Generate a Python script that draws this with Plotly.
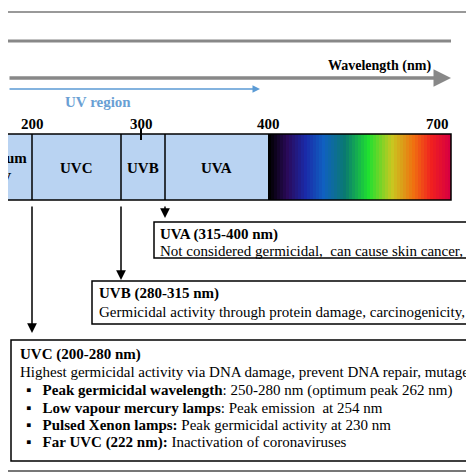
import numpy as np
import plotly.graph_objects as go

# ── data ─────────────────────────────────────────────
tick_nm = [200, 300, 400, 700]
band_names = ["UVC", "UVB", "UVA"]
band_edges_nm = [200, 280, 315, 400]
spectrum_nm = list(range(400, 701, 5))
spectrum_colors = [[0.0, "#000000"], [0.1, "#2a0a5a"], [0.2, "#1a2aa8"], [0.3, "#1060c0"],
                   [0.42, "#0a7a70"], [0.55, "#20e030"], [0.68, "#c8c820"], [0.8, "#f07010"],
                   [0.9, "#f02020"], [1.0, "#d80040"]]
uva_title = "UVA (315-400 nm)"
uva_text = "Not considered germicidal,  can cause skin cancer, cataracts"
uvb_title = "UVB (280-315 nm)"
uvb_text = "Germicidal activity through protein damage, carcinogenicity, erythema"
uvc_title = "UVC (200-280 nm)"
uvc_text = "Highest germicidal activity via DNA damage, prevent DNA repair, mutagenesis"
uvc_bullets = [("Peak germicidal wavelength", ": 250-280 nm (optimum peak 262 nm)"),
               ("Low vapour mercury lamps", ": Peak emission  at 254 nm"),
               ("Pulsed Xenon lamps:", " Peak germicidal activity at 230 nm"),
               ("Far UVC (222 nm):", " Inactivation of coronaviruses")]

# non-linear wavelength scale of the drawing (nm -> x)
scale_nm = [200, 280, 300, 315, 400, 700]
scale_x = [24, 113, 133, 157, 260, 443]
def wx(nm):
    return float(np.interp(nm, scale_nm, scale_x))

FONT = "Liberation Serif"
FS = 15
fig = go.Figure()

# spectrum heatmap (cell centres so that the edges sit on the bar)
n = len(spectrum_nm)
step = (wx(700) - wx(400)) / n
sx = [wx(400) + step * (i + 0.5) for i in range(n)]
fig.add_trace(go.Heatmap(x=sx, y=[142.5, 175.5], z=[spectrum_nm, spectrum_nm],
                         colorscale=spectrum_colors, showscale=False, hoverinfo="skip"))

shapes = []
ann = []
line = dict(color="black", width=1.5)
# grey frame lines
shapes.append(dict(type="line", x0=0, x1=474, y0=4, y1=4, line=dict(color="#777", width=1.5)))
shapes.append(dict(type="line", x0=0, x1=443, y0=33, y1=33, line=dict(color="#888", width=3)))
shapes.append(dict(type="line", x0=0, x1=474, y0=463, y1=463, line=dict(color="#777", width=2)))
# UV bar
shapes.append(dict(type="rect", x0=-5, x1=wx(400), y0=126, y1=192, line=dict(width=0),
                   fillcolor="#b9d3f2", layer="below"))
shapes.append(dict(type="rect", x0=-5, x1=wx(700), y0=126, y1=192, line=line))
for nm in band_edges_nm[:-1]:
    shapes.append(dict(type="line", x0=wx(nm), x1=wx(nm), y0=126, y1=192, line=line))
shapes.append(dict(type="line", x0=wx(300), x1=wx(300), y0=121, y1=132, line=dict(color="black", width=2)))
for nm in tick_nm:
    ann.append(dict(x=wx(nm), y=116, text=f"<b>{nm}</b>", showarrow=False,
                    xanchor="right" if nm == 700 else "center", font=dict(size=15)))
for i, name in enumerate(band_names):
    ann.append(dict(x=(wx(band_edges_nm[i]) + wx(band_edges_nm[i + 1])) / 2,
                    y=160, text=f"<b>{name}</b>", showarrow=False, font=dict(size=15)))
ann.append(dict(x=0.045, xref="paper", y=160, text="<b>Vacuum<br>UV</b>", showarrow=False,
                xanchor="right", align="center", font=dict(size=15)))

# arrows
ann.append(dict(x=443, y=70, ax=0, ay=70, axref="x", ayref="y", text="", showarrow=True,
                arrowhead=2, arrowsize=1, arrowwidth=3.5, arrowcolor="#888"))
ann.append(dict(x=425, y=58, text="<b>Wavelength (nm)</b>", showarrow=False, xanchor="right",
                font=dict(size=14)))
ann.append(dict(x=252, y=81, ax=0, ay=81, axref="x", ayref="y", text="", showarrow=True,
                arrowhead=2, arrowsize=1, arrowwidth=1.5, arrowcolor="#5b9bd5"))
ann.append(dict(x=90, y=94, text="<b>UV region</b>", showarrow=False, font=dict(size=15, color="#6a9fd4")))
for x, y1 in [(wx(200), 325), (wx(280), 272), (wx(315), 210)]:
    ann.append(dict(x=x, y=y1, ax=x, ay=197, axref="x", ayref="y", text="", showarrow=True,
                    arrowhead=2, arrowsize=1.3, arrowwidth=1.5, arrowcolor="black"))

# text boxes
for x0, y0, y1 in [(146, 214, 250), (84, 273, 316), (3, 332, 453)]:
    shapes.append(dict(type="rect", x0=x0, x1=490, y0=y0, y1=y1, line=line, fillcolor="white"))
def txt(x, y, s):
    ann.append(dict(x=x, y=y, text=s, showarrow=False, xanchor="left", font=dict(size=FS)))
txt(150, 226, f"<b>{uva_title}</b>"); txt(150, 243, uva_text)
txt(89, 285, f"<b>{uvb_title}</b>"); txt(89, 304, uvb_text)
txt(10, 346, f"<b>{uvc_title}</b>"); txt(10, 364, uvc_text)
for i, (b, r) in enumerate(uvc_bullets):
    txt(16, 382 + 17.6 * i, f"▪   <b>{b}</b>{r}")

fig.update_layout(width=474, height=474, margin=dict(l=0, r=0, t=0, b=0),
                  plot_bgcolor="white", paper_bgcolor="white",
                  xaxis=dict(range=[0, 474], visible=False, fixedrange=True),
                  yaxis=dict(range=[474, 0], visible=False, fixedrange=True),
                  shapes=shapes, annotations=ann, font=dict(family=FONT, color="black"),
                  showlegend=False)
fig.write_html("out.html")
